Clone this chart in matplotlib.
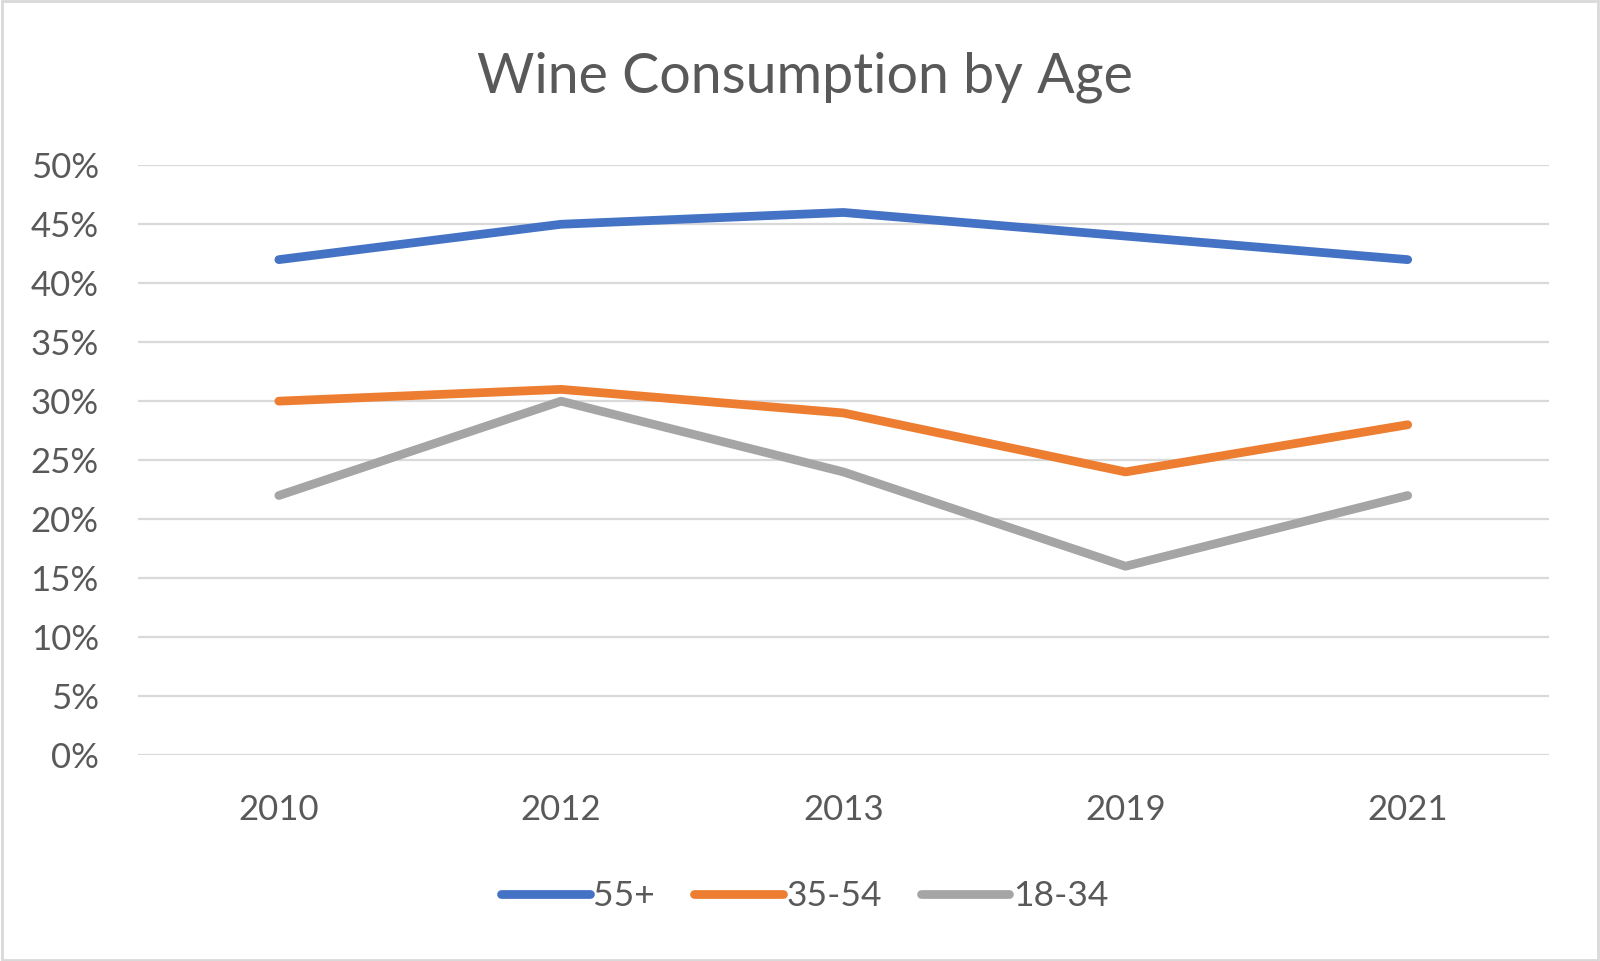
import matplotlib
matplotlib.use("Agg")
import matplotlib.pyplot as plt
from matplotlib.patches import Rectangle
from matplotlib.ticker import FuncFormatter, MultipleLocator

plt.rcParams["font.family"] = ["Lato", "DejaVu Sans"]

years = ["2010", "2012", "2013", "2019", "2021"]
age_55_plus = [0.42, 0.45, 0.46, 0.44, 0.42]
age_35_54 = [0.30, 0.31, 0.29, 0.24, 0.28]
age_18_34 = [0.22, 0.30, 0.24, 0.16, 0.22]

series = [("55+", age_55_plus, "#4472C4"),
          ("35-54", age_35_54, "#ED7D31"),
          ("18-34", age_18_34, "#A5A5A5")]

TXT = "#595959"

fig = plt.figure(figsize=(16, 9.61), dpi=100)
ax = fig.add_axes([0.0861, 0.2144, 0.968 - 0.0861, 0.828 - 0.2144])

x = list(range(len(years)))
for name, vals, col in series:
    ax.plot(x, vals, color=col, lw=6.3, label=name, solid_capstyle="round",
            solid_joinstyle="round", zorder=3)

ax.set_xlim(-0.5, len(years) - 0.5)
ax.set_ylim(0, 0.5)
ax.yaxis.set_major_locator(MultipleLocator(0.05))
ax.yaxis.set_major_formatter(FuncFormatter(lambda v, p: f"{v*100:.0f}%"))
ax.set_xticks(x)
ax.set_xticklabels(years)
ax.grid(axis="y", color="#D9D9D9", lw=1.6, zorder=0)
for s in ax.spines.values():
    s.set_visible(False)
ax.tick_params(axis="both", length=0, labelsize=25, labelcolor=TXT)
ax.tick_params(axis="y", pad=28)
ax.tick_params(axis="x", pad=28)

fig.text(0.503, 0.92, "Wine Consumption by Age", ha="center", va="center",
         fontsize=40, color=TXT)

fig.legend(loc="center", bbox_to_anchor=(0.503, 0.0676), ncol=3, frameon=False,
           fontsize=25.5, labelcolor=TXT, handlelength=2.5, handletextpad=0.1,
           columnspacing=1.1)

fig.patches.append(Rectangle((0.001, 0.0015), 0.998, 0.997, transform=fig.transFigure,
                             fill=False, edgecolor="#D9D9D9", lw=2))

fig.savefig("out.png", dpi=100)
